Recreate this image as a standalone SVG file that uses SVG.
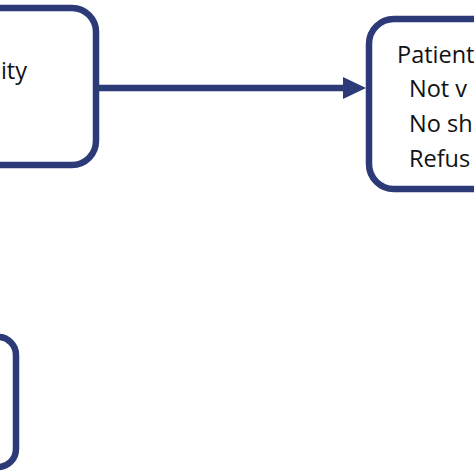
<svg xmlns="http://www.w3.org/2000/svg" width="474" height="474" viewBox="0 0 474 474">
<style>
.box{fill:#ffffff;stroke:#2c3a78;stroke-width:6.5}
.t{font-family:"Open Sans","Liberation Sans",Arial,sans-serif;font-size:23.5px;fill:#111111}
.c{stroke:#2c3a78;stroke-width:6.5;fill:none}
</style>
<rect width="474" height="474" fill="#ffffff"/>
<g id="node-left">
<rect class="box" x="-120" y="8" width="216" height="157" rx="24"/>
<text class="t" x="27" y="79" text-anchor="end">ity</text>
</g>
<g id="node-right">
<rect class="box" x="369" y="19" width="200" height="170" rx="25"/>
<text class="t" x="397" y="63">Patient</text>
<text class="t" x="409" y="97">Not v</text>
<text class="t" x="409" y="132">No sh</text>
<text class="t" x="409" y="167">Refus</text>
</g>
<g id="node-bottom">
<rect class="box" x="-150" y="337" width="166" height="130" rx="18"/>
</g>
<g id="connectors">
<line class="c" x1="99" y1="88" x2="346" y2="88"/>
<polygon points="343,77 366,88 343,99" fill="#2c3a78"/>
</g>
</svg>
